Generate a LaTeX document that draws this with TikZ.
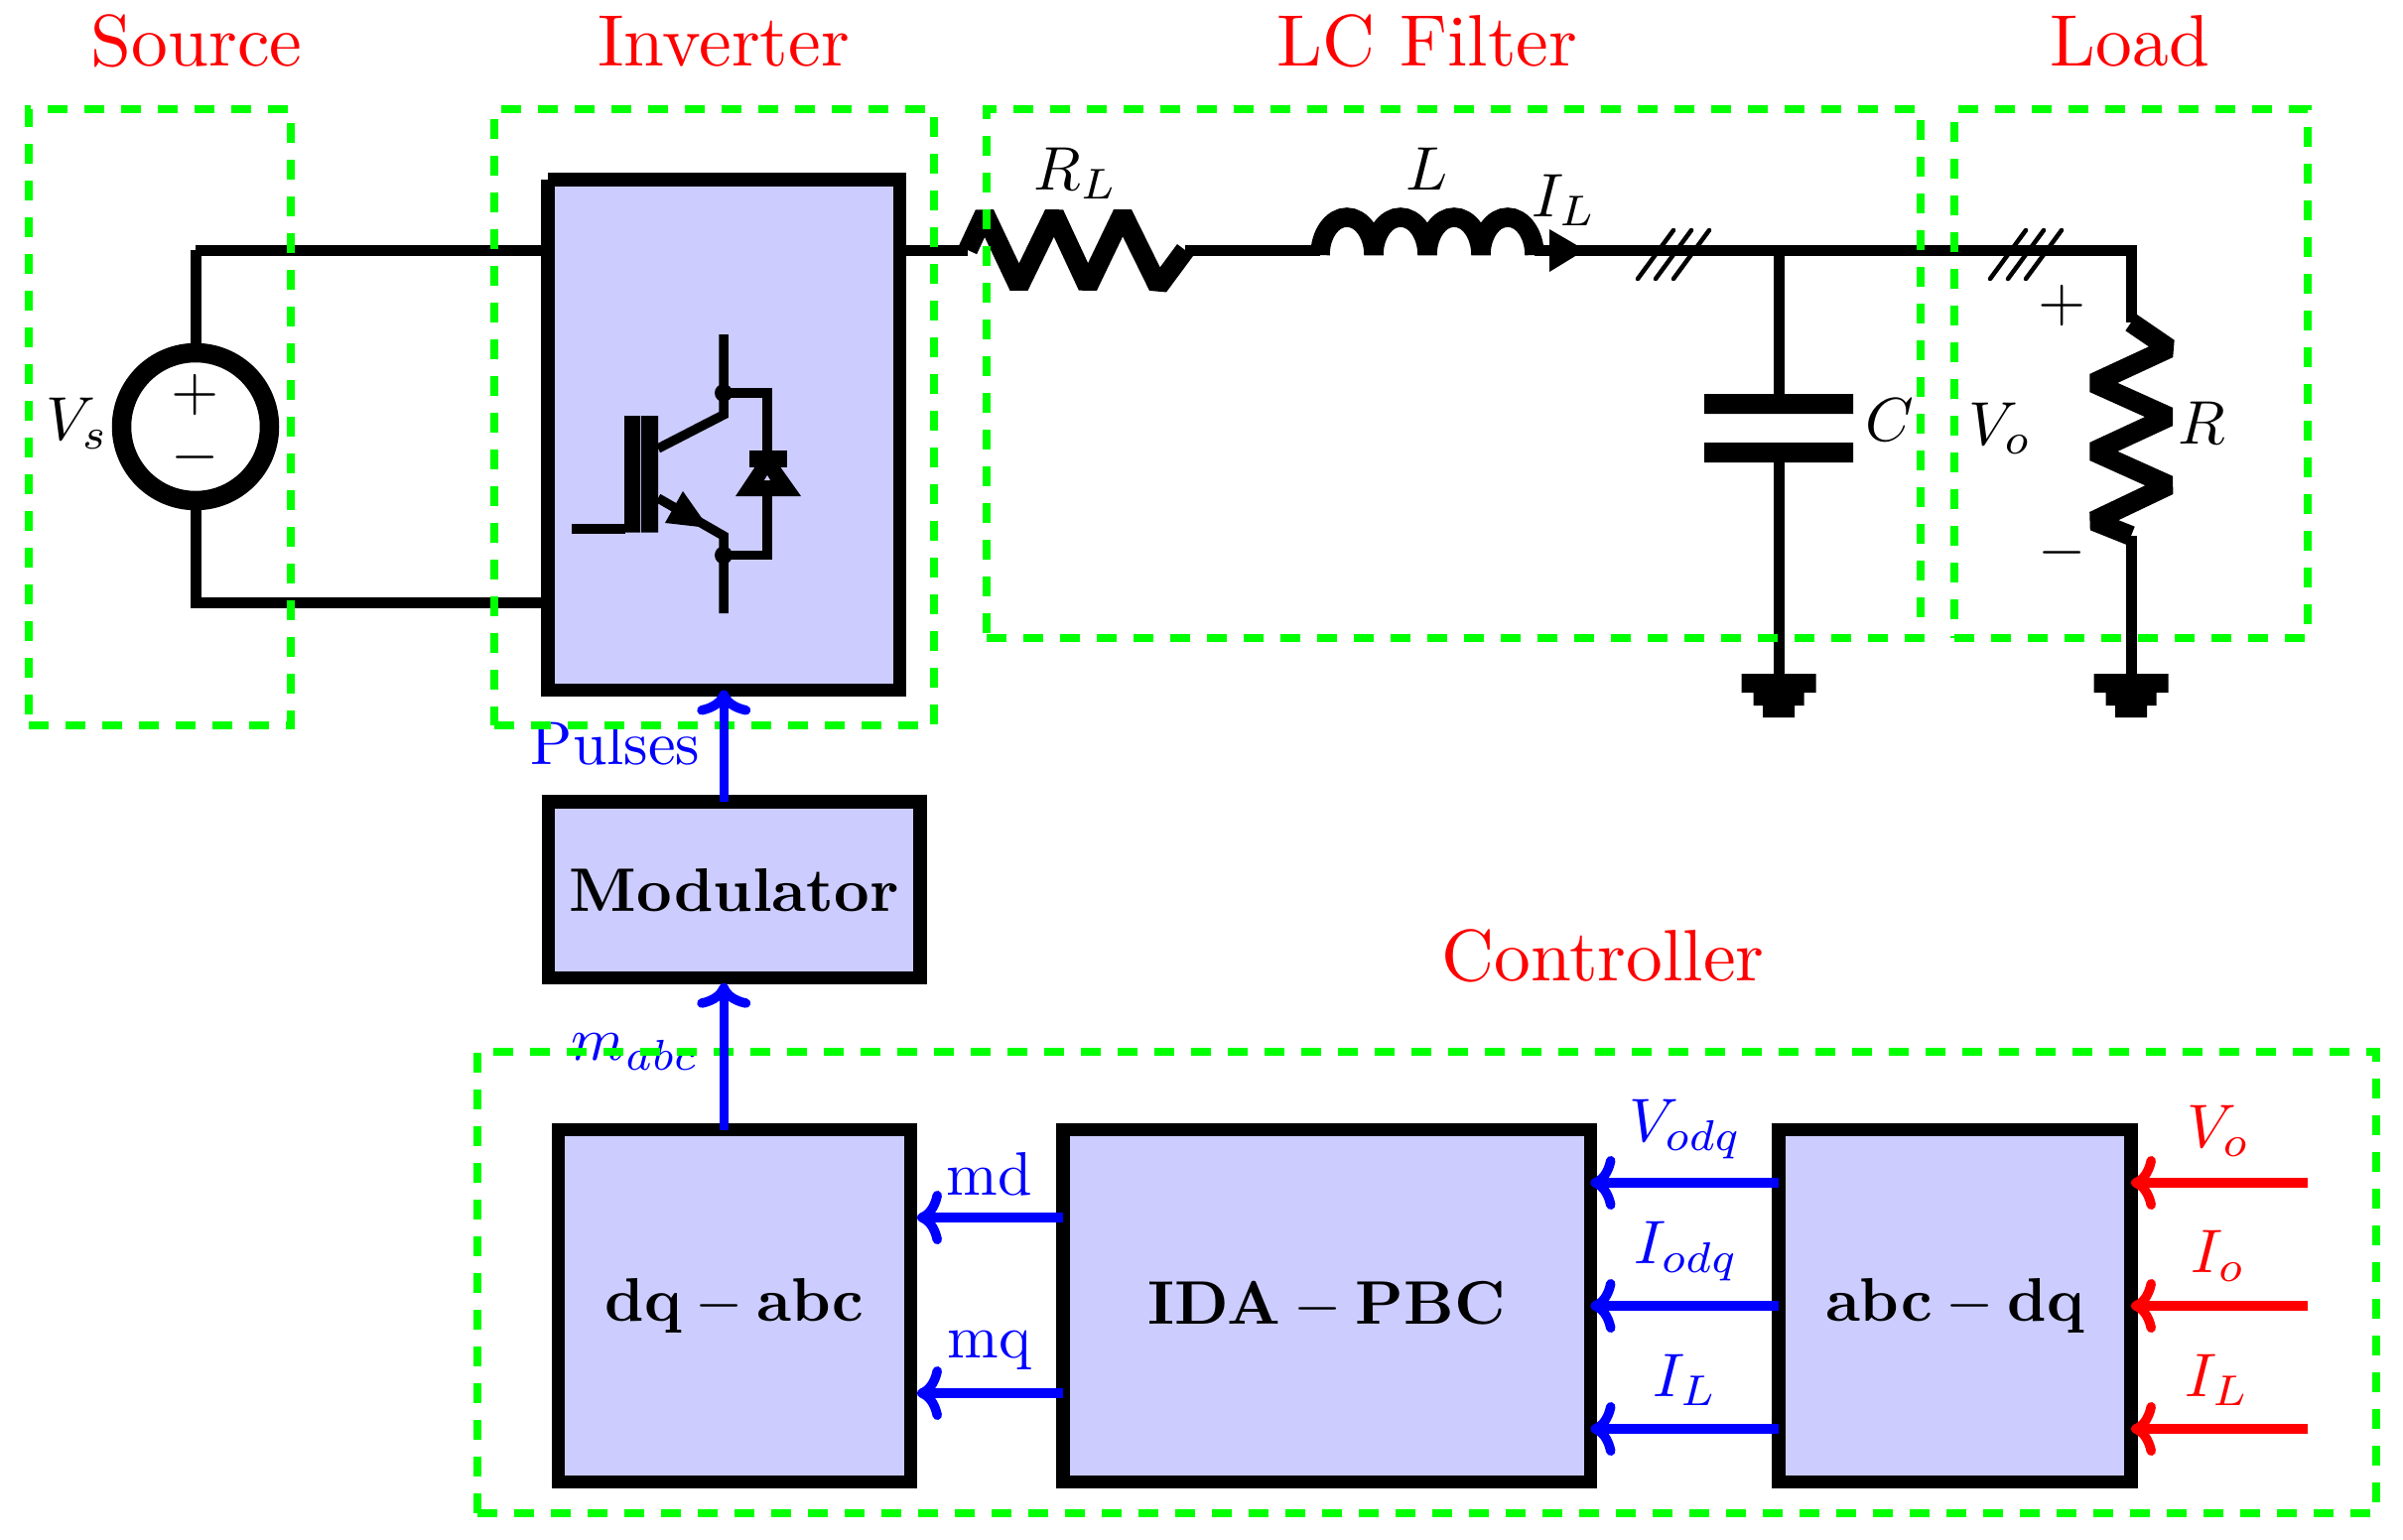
\documentclass[tikz,border=0pt]{standalone}
\usepackage{graphicx}
\usetikzlibrary{arrows.meta}
\definecolor{blockfill}{RGB}{204,204,255}
\tikzset{
  wire/.style={line width=11pt},
  thinslash/.style={line width=4.5pt,line cap=round},
  zig/.style={line width=20pt,line join=bevel},
  greenbox/.style={draw={rgb,255:red,0;green,255;blue,0},line width=7.5pt,dash pattern=on 20pt off 17pt},
  block/.style={draw=black,fill=blockfill,line width=13.5pt,inner sep=0pt,outer sep=0pt},
  title/.style={text=red,scale=7.35,inner sep=0pt},
  lbl/.style={scale=6.2,inner sep=0pt},
  bluelbl/.style={lbl,text=blue},
  redlbl/.style={lbl,text=red},
  sig/.style={line width=9.5pt,-{Computer Modern Rightarrow[width=54pt,length=25pt]}},
  bluearrow/.style={sig,draw=blue},
  redarrow/.style={sig,draw=red},
}
\newcommand{\gndsym}[1]{%
  \fill[black,shift={(#1,0)}] (-37.5,679) rectangle (37.5,698) (-25.5,698) rectangle (25.5,711) (-16,711) rectangle (16,723);}
\begin{document}
\begin{tikzpicture}[x=1pt,y=-1pt]
\useasboundingbox (0,0) rectangle (2421,1551);
% blocks
\node[block,draw=none,minimum width=354.5pt,minimum height=514.5pt] (inv) at (729.25,438.25) {};
\node[block,minimum width=374.5pt,minimum height=177.5pt] (mod) at (739.75,896.5) {\scalebox{6.2}{$\mathbf{Modulator}$}};
\node[block,minimum width=355pt,minimum height=355pt] (dq) at (740,1316) {\raisebox{-1.5pt}{\scalebox{6.2}{$\mathbf{dq-abc}$}}};
\node[block,minimum width=531.5pt,minimum height=355pt] (ida) at (1336.75,1316) {\raisebox{-1.5pt}{\scalebox{6.2}{$\mathbf{IDA-PBC}$}}};
\node[block,minimum width=355pt,minimum height=355pt] (abc) at (1969.5,1316) {\raisebox{-1.5pt}{\scalebox{6.2}{$\mathbf{abc-dq}$}}};
\draw[line width=13.5pt] (inv.north west) -- (inv.north east) -- (inv.south east) -- (inv.south west) -- (inv.north west);
% source
\node[circle,draw=black,line width=19.5pt,minimum size=149pt,inner sep=0pt,outer sep=0pt] (vs) at (197,430) {};
\node[lbl] (vsp) at (197,398) {$+$};
\node[lbl] (vsm) at (197,461) {$-$};
\node[lbl] (vslab) at (78,427) {$V_s$};
\coordinate (vstop) at (197,252);
\coordinate (vsbot) at (197,607);
\draw[wire] (vs.north) -- (vstop);
\draw[wire] (vstop) -- (inv.west |- vstop);
\draw[wire] (vs.south) -- (vsbot) -- (inv.west |- vsbot);
% output line
\coordinate (rls) at (975,252);
\coordinate (rle) at (1194,252);
\coordinate (ls) at (1330,252);
\coordinate (capj) at (1792,252);
\coordinate (corner) at (2147,252);
\coordinate (rt) at (2147,325);
\coordinate (rb) at (2147,540);
\coordinate (capa) at (1792,397);
\coordinate (capb) at (1792,466);
\coordinate (g1) at (1792,679);
\coordinate (g2) at (2147,679);
\draw[wire] (inv.east |- rls) -- (rls);
\draw[zig] (rls) -- (992,215.5) -- (1026.5,288.5) -- (1062,215.5) -- (1096,288.5) -- (1131,215.5) -- (1167,288.5) -- (rle);
\draw[wire] (rle) -- (ls);
\draw[line width=19.5pt] (1330,257)
  arc[start angle=180,end angle=0,x radius=27pt,y radius=38pt]
  arc[start angle=180,end angle=0,x radius=27pt,y radius=38pt]
  arc[start angle=180,end angle=0,x radius=27pt,y radius=38pt]
  arc[start angle=180,end angle=0,x radius=27pt,y radius=38pt];
\draw[wire] (1546,252) -- (corner) -- (rt);
\fill[black] (1561,231) -- (1597,252) -- (1561,274) -- cycle;
\foreach \xa in {1650,1668,1686,2005,2023,2041}
  \draw[thinslash] (\xa,281) -- ++(36,-49);
% capacitor
\draw[wire] (capj) -- (capa);
\fill[black] (1717,397) rectangle (1867,417) (1717,446) rectangle (1867,466);
\draw[wire] (capb) -- (g1);
\gndsym{1792}
% load resistor
\draw[zig] (rt) -- (2185,351) -- (2109.5,386) -- (2185,420) -- (2109.5,455) -- (2185,489) -- (2109.5,525) -- (rb);
\draw[wire] (rb) -- (g2);
\gndsym{2147}
\node[lbl] (vop) at (2078,308) {$+$};
\node[lbl] (vom) at (2078,557) {$-$};
% IGBT
\coordinate (igt) at (729,337);
\coordinate (igc) at (729,396);
\coordinate (ige) at (729,559.5);
\coordinate (igb) at (729,618);
\draw[line width=9.5pt] (igt) -- (igc) -- (729,418) -- (663,452);
\draw[line width=9.5pt] (663,502) -- (729,540) -- (ige) -- (igb);
\fill[black] (igc) circle[radius=9pt] (ige) circle[radius=9pt];
\fill[black] (629,419) rectangle (645,536.5) (646,419) rectangle (663,536.5);
\draw[line width=9.5pt] (576,533) -- (630,533);
\fill[black] (688,495) -- (670,527) -- (714,532) -- cycle;
\draw[line width=9.5pt] (igc) -- (773,396) -- (773,454);
\draw[line width=9.5pt] (773,500) -- (773,559.5) -- (ige);
\fill[black] (755,454) rectangle (793,471);
\fill[black] (741,500) -- (807,500) -- (773,452) -- cycle;
\fill[blockfill] (770,484) -- (776,484) -- (773,479) -- cycle;
% circuit labels
\node[lbl] (rllab) at (1084,175) {$R_L$};
\node[lbl] (llab) at (1438,170) {$L$};
\node[lbl] (illab) at (1576,202) {$I_L$};
\node[lbl] (clab) at (1904,423) {$C$};
\node[lbl] (volab) at (2015,432) {$V_o$};
\node[lbl] (rlab) at (2218,426) {$R$};
% signal labels
\node[bluelbl] (pulses) at (620,749.5) {Pulses};
\node[bluelbl] (mabc) at (640,1060) {$m_{abc}$};
\node[bluelbl] (md) at (997,1183) {md};
\node[bluelbl] (mq) at (997,1361) {mq};
\node[bluelbl] (vodq) at (1698,1138) {$V_{odq}$};
\node[bluelbl] (iodq) at (1699,1261) {$I_{odq}$};
\node[bluelbl] (ildq) at (1698,1391) {$I_L$};
\node[redlbl] (vored) at (2235,1140) {$V_o$};
\node[redlbl] (iored) at (2235,1266) {$I_o$};
\node[redlbl] (ilred) at (2234,1391) {$I_L$};
% titles
\node[title] (t1) at (198,41.5) {Source};
\node[title] (t2) at (729,41.5) {Inverter};
\node[title] (t3) at (1438,41.5) {LC Filter};
\node[title] (t4) at (2146,41.5) {Load};
\node[title] (t5) at (1615,963) {Controller};
% green group boxes
\draw[greenbox] (29,731) -- (293,731) -- (293,110) -- (29,110) -- cycle;
\draw[greenbox] (498,731) -- (941,731) -- (941,110) -- (498,110) -- cycle;
\draw[greenbox] (994,643) -- (1935,643) -- (1935,110) -- (994,110) -- cycle;
\draw[greenbox] (1969,643) -- (2325,643) -- (2325,110) -- (1969,110) -- cycle;
\draw[greenbox] (481,1525) -- (2394,1525) -- (2394,1060) -- (481,1060) -- cycle;
% signal arrows
\coordinate (yv) at (2325,1192);
\coordinate (yi) at (2325,1316);
\coordinate (yl) at (2325,1440);
\coordinate (ymd) at (1000,1227);
\coordinate (ymq) at (1000,1404);
\draw[redarrow] (yv) -- (abc.east |- yv);
\draw[redarrow] (yi) -- (abc.east |- yi);
\draw[redarrow] (yl) -- (abc.east |- yl);
\draw[bluearrow] (abc.west |- yv) -- (ida.east |- yv);
\draw[bluearrow] (abc.west |- yi) -- (ida.east |- yi);
\draw[bluearrow] (abc.west |- yl) -- (ida.east |- yl);
\draw[bluearrow,shorten >=6.5pt] (ida.west |- ymd) -- (dq.east |- ymd);
\draw[bluearrow,shorten >=6.5pt] (ida.west |- ymq) -- (dq.east |- ymq);
\draw[bluearrow,shorten >=5.5pt] (dq.north -| inv.south) -- (mod.south -| inv.south);
\draw[bluearrow] (mod.north -| inv.south) -- (inv.south);
\end{tikzpicture}
\end{document}
